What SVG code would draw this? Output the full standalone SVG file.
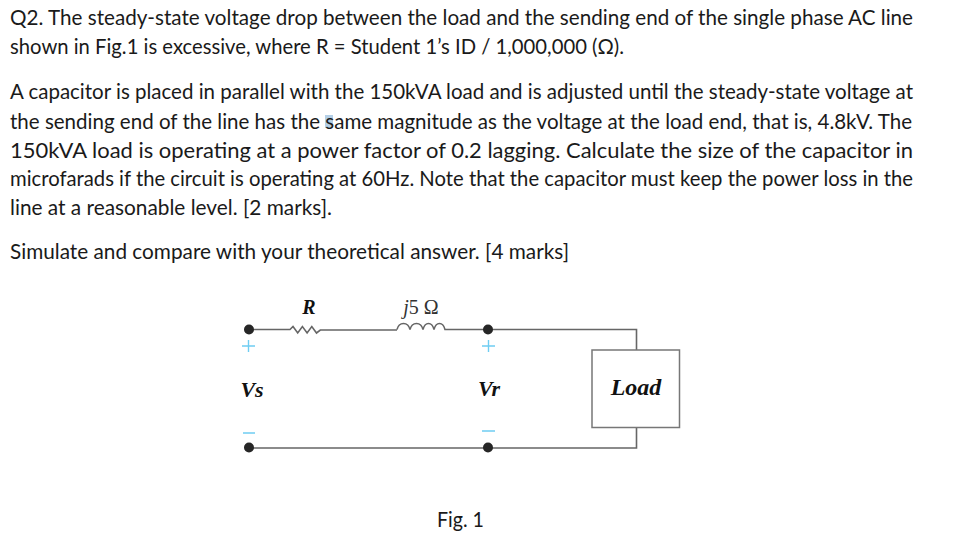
<svg xmlns="http://www.w3.org/2000/svg" width="957" height="543" viewBox="0 0 957 543">
<style>
.t{font-family:Lato,"Liberation Sans",sans-serif;font-size:20.5px;fill:#1a1a1a}
.m{font-family:"Liberation Serif",serif;font-style:italic;font-weight:bold;fill:#111}
.w{fill:none;stroke:#666;stroke-width:1.6}
.d{fill:#262626}
.p{stroke:#6fcdf2;stroke-width:1.4;fill:none}
</style>
<rect width="957" height="543" fill="#fff"/>
<rect x="325" y="115" width="8" height="13" fill="#b4cfe6"/>
<g id="text">
<text class="t" x="10" y="24.500" textLength="903" lengthAdjust="spacingAndGlyphs">Q2. The steady-state voltage drop between the load and the sending end of the single phase AC line</text>
<text class="t" x="10" y="54" textLength="614" lengthAdjust="spacingAndGlyphs">shown in Fig.1 is excessive, where R = Student 1’s ID / 1,000,000 (Ω).</text>
<text class="t" x="10" y="99" textLength="903" lengthAdjust="spacingAndGlyphs">A capacitor is placed in parallel with the 150kVA load and is adjusted until the steady-state voltage at</text>
<text class="t" x="10" y="128.500" textLength="902" lengthAdjust="spacingAndGlyphs">the sending end of the line has the same magnitude as the voltage at the load end, that is, 4.8kV. The</text>
<text class="t" x="10" y="157.500" textLength="903" lengthAdjust="spacingAndGlyphs">150kVA load is operating at a power factor of 0.2 lagging. Calculate the size of the capacitor in</text>
<text class="t" x="10" y="186" textLength="903" lengthAdjust="spacingAndGlyphs">microfarads if the circuit is operating at 60Hz. Note that the capacitor must keep the power loss in the</text>
<text class="t" x="10" y="214.500" textLength="322" lengthAdjust="spacingAndGlyphs">line at a reasonable level. [2 marks].</text>
<text class="t" x="10" y="259" textLength="559" lengthAdjust="spacingAndGlyphs">Simulate and compare with your theoretical answer. [4 marks]</text>
<text class="t" x="437" y="527" textLength="47" lengthAdjust="spacingAndGlyphs">Fig. 1</text>
</g>
<g id="connectors">
<path class="w" d="M249 329.500H290l3-3 4.700 6.500 4.700-6.500 4.700 6.500 4.700-6.500 4.700 6.500 3.800-3H397"/>
<path class="w" d="M397 329.500c2-8 11-8 13 0c2-8 11-8 13 0c2-8 9-8 11 0c2-8 9-8 11 0H636.500V350"/>
<path class="w" d="M249 448H636.500V428"/>
</g>
<g id="terminals">
<circle class="d" cx="249" cy="329.500" r="5"/>
<circle class="d" cx="249" cy="447.500" r="5"/>
<circle class="d" cx="488" cy="329.500" r="5"/>
<circle class="d" cx="488" cy="447.500" r="5"/>
<path class="p" d="M242 346H255M248.500 340V352M243 433H255M482 346H495M488.500 340V352M482 431H495"/>
</g>
<g id="R"><text class="m" x="309" y="314" font-size="20" text-anchor="middle">R</text></g>
<g id="X"><text x="421" y="314" font-family="Liberation Serif,serif" font-size="20" fill="#333" text-anchor="middle"><tspan font-style="italic">j</tspan>5 Ω</text></g>
<g id="Vs"><text class="m" x="252" y="397" font-size="22" text-anchor="middle">Vs</text></g>
<g id="Vr"><text class="m" x="489" y="396" font-size="22" text-anchor="middle">Vr</text></g>
<g id="load">
<rect x="592" y="350" width="87.500" height="77.500" fill="#fff" stroke="#777" stroke-width="1.500"/>
<text class="m" x="636" y="395" font-size="24" text-anchor="middle">Load</text>
</g>
</svg>
